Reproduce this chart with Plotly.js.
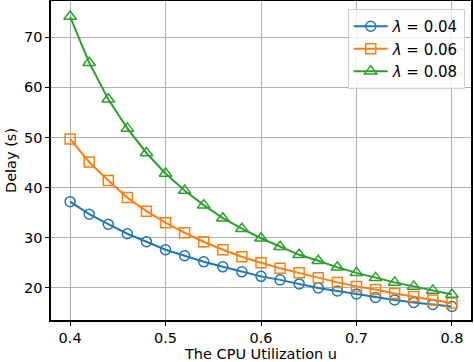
<!DOCTYPE html>
<html>
<head>
<meta charset="utf-8">
<script src="https://cdn.plot.ly/plotly-3.0.1.min.js"></script>
<style>html,body{margin:0;padding:0;background:#fff;}#chart{width:474px;height:362px;}</style>
</head>
<body>
<div id="chart"></div>
<script>
const utilization = [0.40,0.42,0.44,0.46,0.48,0.50,0.52,0.54,0.56,0.58,0.60,0.62,0.64,0.66,0.68,0.70,0.72,0.74,0.76,0.78,0.80];
const delay004 = [37.2,34.7,32.7,30.8,29.2,27.6,26.4,25.2,24.2,23.2,22.3,21.6,20.8,20.0,19.4,18.8,18.1,17.6,17.1,16.7,16.3];
const delay006 = [49.7,45.1,41.4,38.0,35.3,33.0,31.0,29.2,27.6,26.2,25.0,23.9,23.0,22.0,21.1,20.3,19.7,18.9,18.3,17.6,17.0];
const delay008 = [74.1,64.9,57.6,51.8,46.9,42.8,39.4,36.5,33.9,31.8,29.9,28.2,26.6,25.4,24.1,23.0,22.0,21.1,20.3,19.5,18.7];
const seriesNames = ["<i>\u03bb</i> = 0.04","<i>\u03bb</i> = 0.06","<i>\u03bb</i> = 0.08"];
const colors = ["#1f77b4","#ff7f0e","#2ca02c"];
const symbols = ["circle-open","square-open","triangle-up-open"];
const xTicks = [0.4,0.5,0.6,0.7,0.8];
const yTicks = [20,30,40,50,60,70];

const ys = [delay004, delay006, delay008];
const traces = ys.map((y,i)=>({
  x: utilization, y: y, type:'scatter', mode:'lines+markers', name: seriesNames[i],
  line:{color:colors[i], width:2},
  marker:{symbol:symbols[i], size:i===2?11:10, color:colors[i], line:{color:colors[i], width:1.5}}
}));

const font = {family:'"DejaVu Sans", sans-serif', size:14.5, color:'#000'};
const layout = {
  width:474, height:362,
  margin:{l:51, r:3, t:1, b:42, pad:0},
  paper_bgcolor:'#fff', plot_bgcolor:'#fff',
  font: font,
  showlegend:true,
  legend:{x:0.985, y:0.975, xanchor:'right', yanchor:'top', bgcolor:'rgba(255,255,255,0.8)',
    bordercolor:'#d0d0d0', borderwidth:1, font:{family:'"DejaVu Sans", sans-serif', size:15, color:'#000'},
    tracegroupgap:0, itemwidth:34},
  xaxis:{range:[0.38,0.82], tickvals:xTicks, ticktext:xTicks.map(v=>v.toFixed(1)),
    showgrid:true, gridcolor:'#b0b0b0', gridwidth:1,
    showline:true, linecolor:'#000', linewidth:1.6, mirror:true,
    ticks:'outside', ticklen:4, tickcolor:'#000', tickwidth:1,
    zeroline:false, tickfont:font,
    title:{text:'The CPU Utilization u', font:font, standoff:3}},
  yaxis:{range:[13.6,77.2], tickvals:yTicks,
    showgrid:true, gridcolor:'#b0b0b0', gridwidth:1,
    showline:true, linecolor:'#000', linewidth:1.6, mirror:true,
    ticks:'outside', ticklen:4, tickcolor:'#000', tickwidth:1,
    zeroline:false, tickfont:font,
    title:{text:'Delay (s)', font:font, standoff:4}}
};
Plotly.newPlot('chart', traces, layout, {displayModeBar:false, staticPlot:true});
</script>
</body>
</html>
